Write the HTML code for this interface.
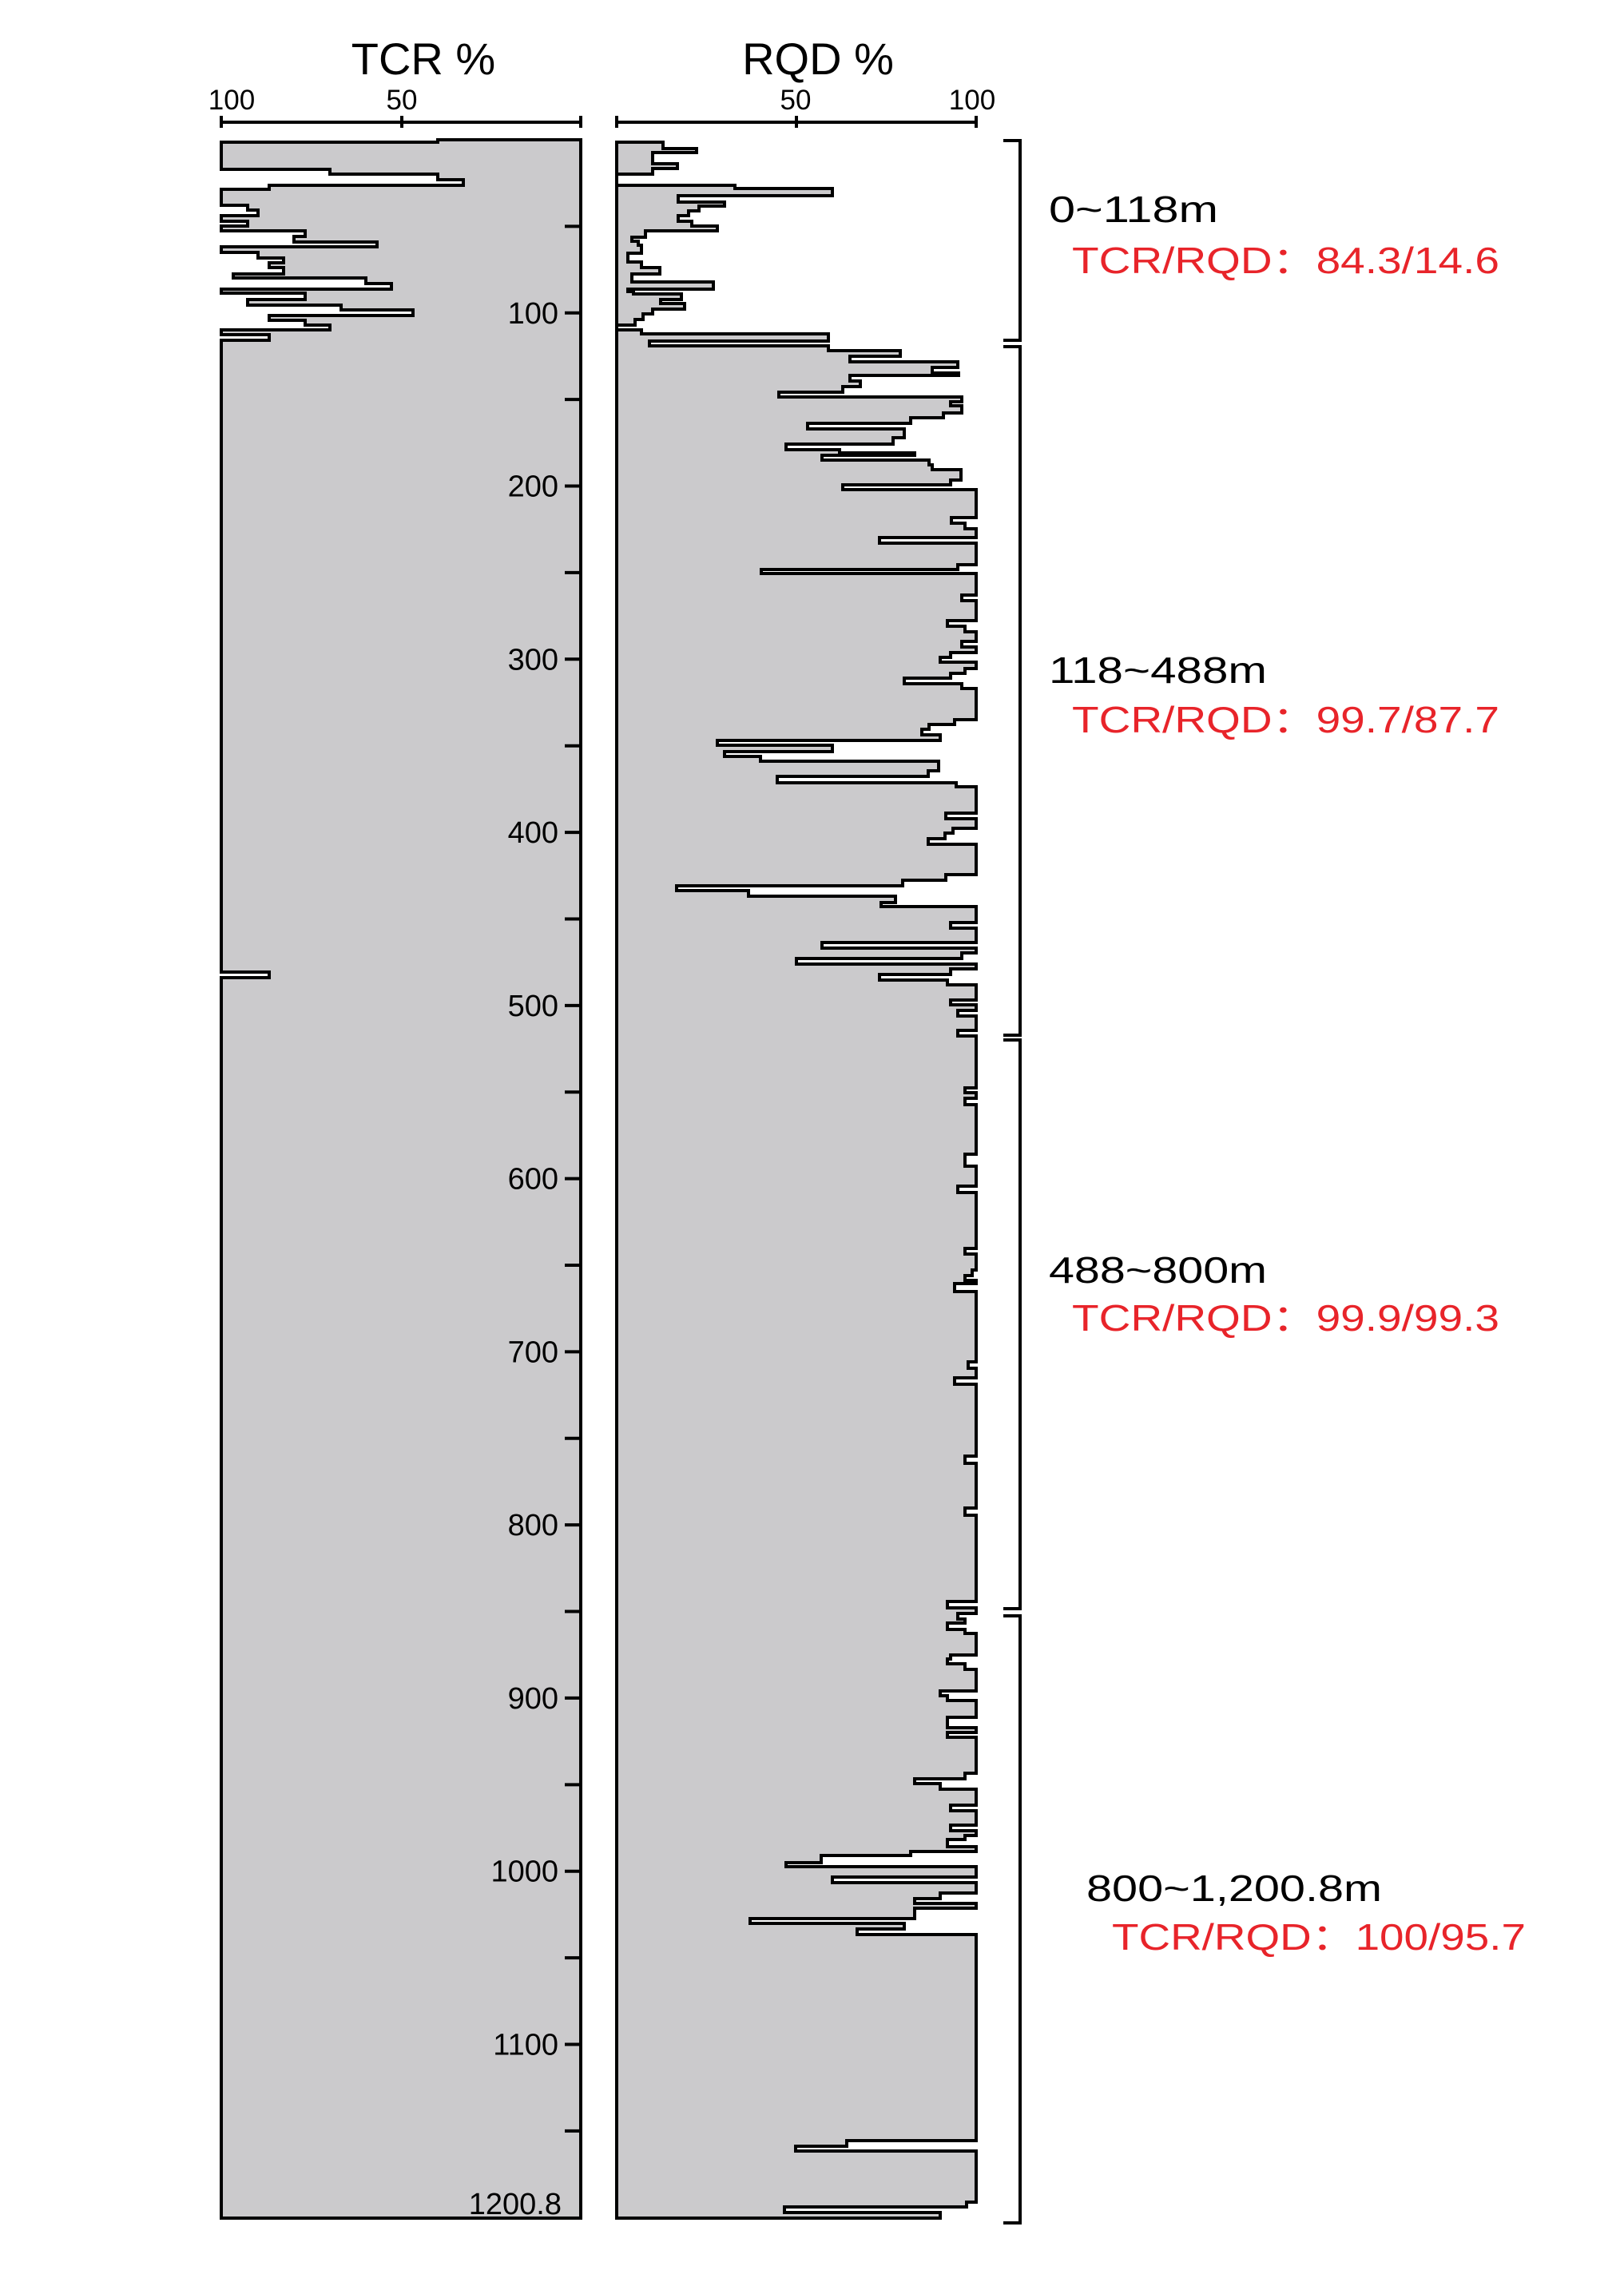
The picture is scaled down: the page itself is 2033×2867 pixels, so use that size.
<!DOCTYPE html>
<html><head><meta charset="utf-8">
<style>
html,body{margin:0;padding:0;background:#fff;}
svg{display:block;}
text{font-family:"Liberation Sans","Noto Sans CJK SC",sans-serif;}
</style></head>
<body>
<svg id="s" width="2033" height="2867" viewBox="0 0 2033 2867" xmlns="http://www.w3.org/2000/svg">
<rect width="2033" height="2867" fill="#fff"/>
<path id="tcr" fill="#cbcacc" stroke="#000" stroke-width="4" stroke-linejoin="miter"/>
<path id="rqd" fill="#cbcacc" stroke="#000" stroke-width="4" stroke-linejoin="miter"/>
<g id="ticks" stroke="#000" stroke-width="4"></g>
<g id="lbls" font-size="38" text-anchor="end" fill="#000"></g>
<text x="703" y="2772" font-size="38" text-anchor="end">1200.8</text>

<!-- titles -->
<text x="530" y="93" font-size="56" text-anchor="middle">TCR %</text>
<text x="1024" y="93" font-size="56" text-anchor="middle">RQD %</text>
<text x="290" y="137" font-size="35" text-anchor="middle">100</text>
<text x="503" y="137" font-size="35" text-anchor="middle">50</text>
<text x="996" y="137" font-size="35" text-anchor="middle">50</text>
<text x="1217" y="137" font-size="35" text-anchor="middle">100</text>
<g stroke="#000" stroke-width="4" fill="none">
<line x1="277" y1="153" x2="727" y2="153"/>
<line x1="277" y1="145" x2="277" y2="160"/><line x1="503" y1="145" x2="503" y2="160"/><line x1="727" y1="145" x2="727" y2="160"/>
<line x1="772" y1="153" x2="1222" y2="153"/>
<line x1="772" y1="145" x2="772" y2="160"/><line x1="997" y1="145" x2="997" y2="160"/><line x1="1222" y1="145" x2="1222" y2="160"/>
<!-- brackets -->
<polyline points="1256,176 1277,176 1277,426 1256,426"/>
<polyline points="1256,434 1277,434 1277,1296 1256,1296"/>
<polyline points="1256,1302 1277,1302 1277,2014 1256,2014"/>
<polyline points="1256,2023 1277,2023 1277,2783 1256,2783"/>
</g>

<text x="1313" y="278" font-size="46" textLength="212" lengthAdjust="spacingAndGlyphs">0~118m</text>
<text x="1342" y="342" font-size="46" fill="#e8242a" textLength="535" lengthAdjust="spacingAndGlyphs">TCR/RQD：84.3/14.6</text>
<text x="1313" y="855" font-size="46" textLength="273" lengthAdjust="spacingAndGlyphs">118~488m</text>
<text x="1342" y="917" font-size="46" fill="#e8242a" textLength="535" lengthAdjust="spacingAndGlyphs">TCR/RQD：99.7/87.7</text>
<text x="1313" y="1606" font-size="46" textLength="273" lengthAdjust="spacingAndGlyphs">488~800m</text>
<text x="1342" y="1666" font-size="46" fill="#e8242a" textLength="535" lengthAdjust="spacingAndGlyphs">TCR/RQD：99.9/99.3</text>
<text x="1360" y="2380" font-size="46" textLength="370" lengthAdjust="spacingAndGlyphs">800~1,200.8m</text>
<text x="1392" y="2441" font-size="46" fill="#e8242a" textLength="518" lengthAdjust="spacingAndGlyphs">TCR/RQD：100/95.7</text>
</svg>
<script>
var tcr=[[175,178,548],[178,212,277],[212,218,413],[218,225,548],[225,232,580],[232,237,337],[237,257,277],[257,263,310],[263,270,323],[270,277,277],[277,283,310],[283,289,277],[289,296,382],[296,303,368],[303,309,472],[309,316,277],[316,323,323],[323,329,355],[329,335,337],[335,343,355],[343,348,292],[348,355,458],[355,362,490],[362,367,277],[367,375,382],[375,382,310],[382,388,427],[388,395,517],[395,401,337],[401,407,382],[407,413,413],[413,419,277],[419,426,337],[426,1217,277],[1217,1224,337],[1224,2777,277]];
var rqd=[[178,186,830],[186,191,872],[191,205,817],[205,211,848],[211,218,817],[218,232,772],[232,236,920],[236,245,1042],[245,253,849],[253,258,907],[258,264,875],[264,270,862],[270,277,849],[277,283,866],[283,289,898],[289,297,808],[297,302,791],[302,307,799],[307,317,803],[317,328,786],[328,335,803],[335,343,826],[343,353,791],[353,362,893],[362,365,786],[365,368,793],[368,375,853],[375,380,827],[380,387,857],[387,393,817],[393,400,805],[400,407,795],[407,413,772],[413,418,803],[418,427,1037],[427,433,813],[433,439,1037],[439,446,1127],[446,453,1064],[453,460,1199],[460,467,1167],[467,470,1200],[470,477,1064],[477,484,1077],[484,491,1055],[491,497,975],[497,503,1204],[503,508,1190],[508,517,1204],[517,523,1181],[523,530,1140],[530,537,1011],[537,548,1132],[548,556,1118],[556,563,984],[563,567,1051],[567,570,1145],[570,576,1029],[576,582,1163],[582,588,1167],[588,601,1203],[601,607,1190],[607,613,1055],[613,648,1222],[648,655,1191],[655,662,1208],[662,673,1222],[673,680,1101],[680,707,1222],[707,713,1199],[713,718,953],[718,745,1222],[745,752,1204],[752,777,1222],[777,784,1186],[784,791,1208],[791,803,1222],[803,810,1204],[810,817,1222],[817,823,1190],[823,829,1177],[829,837,1222],[837,843,1208],[843,849,1190],[849,856,1132],[856,862,1204],[862,901,1222],[901,907,1195],[907,913,1163],[913,920,1154],[920,927,1177],[927,933,898],[933,941,1042],[941,947,907],[947,953,952],[953,965,1175],[965,972,1162],[972,980,973],[980,985,1197],[985,1018,1222],[1018,1025,1184],[1025,1037,1222],[1037,1043,1193],[1043,1050,1183],[1050,1057,1162],[1057,1095,1222],[1095,1102,1184],[1102,1109,1130],[1109,1115,847],[1115,1122,937],[1122,1130,1121],[1130,1135,1103],[1135,1155,1222],[1155,1162,1190],[1162,1180,1222],[1180,1187,1029],[1187,1193,1222],[1193,1200,1204],[1200,1207,997],[1207,1213,1222],[1213,1220,1190],[1220,1227,1101],[1227,1233,1186],[1233,1252,1222],[1252,1258,1190],[1258,1265,1222],[1265,1272,1199],[1272,1290,1222],[1290,1297,1199],[1297,1362,1222],[1362,1368,1208],[1368,1375,1222],[1375,1383,1208],[1383,1445,1222],[1445,1460,1208],[1460,1485,1222],[1485,1493,1199],[1493,1563,1222],[1563,1570,1208],[1570,1590,1222],[1590,1597,1217],[1597,1603,1208],[1603,1607,1222],[1607,1617,1195],[1617,1705,1222],[1705,1713,1212],[1713,1725,1222],[1725,1733,1195],[1733,1823,1222],[1823,1832,1208],[1832,1888,1222],[1888,1897,1208],[1897,2005,1222],[2005,2013,1186],[2013,2020,1222],[2020,2027,1199],[2027,2032,1208],[2032,2040,1186],[2040,2045,1208],[2045,2072,1222],[2072,2077,1190],[2077,2083,1186],[2083,2090,1208],[2090,2117,1222],[2117,2123,1177],[2123,2129,1186],[2129,2150,1222],[2150,2163,1186],[2163,2169,1222],[2169,2175,1186],[2175,2220,1222],[2220,2227,1208],[2227,2233,1145],[2233,2240,1177],[2240,2260,1222],[2260,2267,1190],[2267,2285,1222],[2285,2292,1190],[2292,2298,1222],[2298,2303,1208],[2303,2312,1186],[2312,2318,1222],[2318,2323,1140],[2323,2332,1028],[2332,2337,984],[2337,2350,1222],[2350,2357,1042],[2357,2370,1222],[2370,2377,1177],[2377,2383,1145],[2383,2389,1222],[2389,2402,1145],[2402,2408,939],[2408,2415,1132],[2415,2422,1073],[2422,2680,1222],[2680,2687,1060],[2687,2693,996],[2693,2757,1222],[2757,2763,1210],[2763,2770,982],[2770,2777,1177]];
function build(rows,base){var d="M"+base+","+rows[0][0];rows.forEach(function(r){d+=" L"+r[2]+","+r[0]+" L"+r[2]+","+r[1];});d+=" L"+base+","+rows[rows.length-1][1]+" Z";return d;}
document.getElementById("tcr").setAttribute("d",build(tcr,727));
document.getElementById("rqd").setAttribute("d",build(rqd,772));
var ns="http://www.w3.org/2000/svg",tg=document.getElementById("ticks"),lg=document.getElementById("lbls");
for(var m=50;m<=1150;m+=50){var y=175+m*2.1677;var l=document.createElementNS(ns,"line");l.setAttribute("x1",707);l.setAttribute("x2",727);l.setAttribute("y1",y);l.setAttribute("y2",y);tg.appendChild(l);
if(m%100==0){var t=document.createElementNS(ns,"text");t.setAttribute("x",699);t.setAttribute("y",y+13);t.textContent=m;lg.appendChild(t);}}
</script>
</body></html>
